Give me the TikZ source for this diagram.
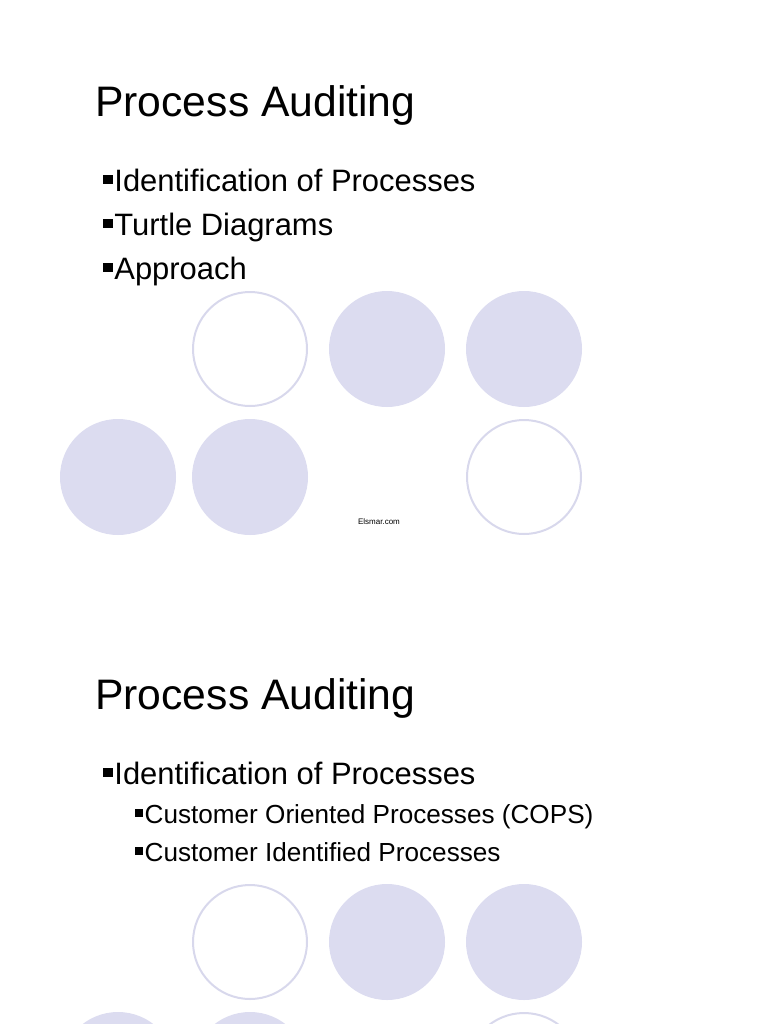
\documentclass[tikz,border=0pt]{standalone}
\usepackage{fontspec}
\setmainfont{Liberation Sans}
\definecolor{lav}{RGB}{220,220,240}
\definecolor{lavline}{RGB}{216,216,236}
\newcommand{\sqb}{\raisebox{0.22em}{\rule{0.3em}{0.3em}}\hspace{0.06em}}
\begin{document}
\begin{tikzpicture}[x=0.75pt,y=-0.75pt,
  title/.style={anchor=base west,inner sep=0,font=\fontsize{32}{36}\selectfont},
  bul/.style={anchor=base west,inner sep=0,font=\fontsize{23.2}{26}\selectfont},
  sub/.style={anchor=base west,inner sep=0,font=\fontsize{19.6}{22}\selectfont},
  fc/.style={circle,fill=lav,minimum size=116pt*0.75,inner sep=0},
  oc/.style={circle,draw=lavline,line width=1.5pt,fill=white,minimum size=114pt*0.75,inner sep=0}]
\useasboundingbox (0,0) rectangle (768,1024);
\clip (0,0) rectangle (768,1024);
% slide 1
\node[title] (t1) at (95,116) {Process Auditing};
\node[bul] (b1) at (103,191) {\sqb Identification of Processes};
\node[bul] (b2) at (103,235) {\sqb Turtle Diagrams};
\node[bul] (b3) at (103,279) {\sqb Approach};
\node[oc] (c1) at (250,349) {};
\node[fc] (c2) at (387,349) {};
\node[fc] (c3) at (524,349) {};
\node[fc] (c4) at (118,477) {};
\node[fc] (c5) at (250,477) {};
\node[oc] (c6) at (524,477) {};
\node[anchor=base,inner sep=0,font=\fontsize{6}{7}\selectfont] (e1) at (379,524) {Elsmar.com};
% slide 2
\node[title] (t2) at (95,709) {Process Auditing};
\node[bul] (d1) at (103,784) {\sqb Identification of Processes};
\node[sub] (s1) at (135,823) {\sqb Customer Oriented Processes (COPS)};
\node[sub] (s2) at (135,861) {\sqb Customer Identified Processes};
\node[oc] (g1) at (250,942) {};
\node[fc] (g2) at (387,942) {};
\node[fc] (g3) at (524,942) {};
\node[fc] (g4) at (118,1070) {};
\node[fc] (g5) at (250,1070) {};
\node[oc] (g6) at (524,1070) {};
\end{tikzpicture}
\end{document}
